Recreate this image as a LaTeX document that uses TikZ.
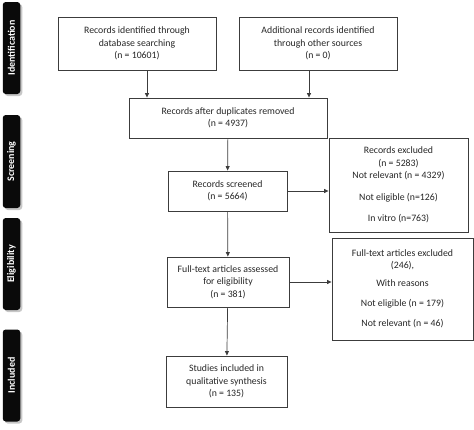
\documentclass[tikz,border=0pt]{standalone}
\usepackage{fontspec}
\setmainfont{Carlito}
\usepackage{tikz}
\usetikzlibrary{arrows.meta,positioning,calc,shadows}
\definecolor{boxline}{RGB}{60,60,60}
\definecolor{phasebg}{RGB}{10,10,10}

\begin{document}
\begin{tikzpicture}[
  x=1pt, y=-1pt,
  box/.style={rectangle, draw=boxline, line width=0.9pt, align=center,
              font=\fontsize{9.8}{12.5}\selectfont, text=black!85, inner sep=2pt},
  phase/.style={rectangle, rounded corners=3pt, fill=phasebg, rotate=90,
                minimum height=17.5pt, text=white, inner sep=0pt,
                font=\fontsize{10}{12}\selectfont\bfseries,
                drop shadow={shadow xshift=2pt, shadow yshift=-2pt, fill=black!22, opacity=1}},
  arr/.style={-{Triangle[length=4.5pt,width=4pt]}, line width=0.7pt, draw=boxline}
]
\useasboundingbox (0,0) rectangle (474,429);

%% ---- Phase labels (left) ----
\node[phase, minimum width=92pt] (ident) at (11.5,48) {Identification};
\node[phase, minimum width=93pt] (screen) at (11.5,161.5) {Screening};
\node[phase, minimum width=92pt] (elig) at (11.5,264) {Eligibility};
\node[phase, minimum width=92pt] (incl) at (11.5,375.5) {Included};

%% ---- Identification ----
\node[box, minimum width=158pt, minimum height=53pt] (dbrec) at (137,43.5)
  {Records identified through\\database searching\\(n = 10601)};
\node[box, minimum width=158pt, minimum height=53pt] (otherrec) at (318,43.5)
  {Additional records identified\\through other sources\\(n = 0)};

%% ---- Screening ----
\node[box, minimum width=198pt, minimum height=40pt] (dedup) at (228,118)
  {Records after duplicates removed\\(n = 4937)};
\node[box, minimum width=119pt, minimum height=40pt] (screened) at (227.5,191)
  {Records screened\\(n = 5664)};
\node[box, minimum width=139pt, minimum height=94pt] (recexcl) at (398.5,185)
  {Records excluded\\(n = 5283)\\Not relevant (n = 4329)\\[9pt]
   Not eligible (n=126)\\[8.5pt]In vitro (n=763)};

%% ---- Eligibility ----
\node[box, minimum width=122pt, minimum height=50pt] (fulltext) at (228,282)
  {Full-text articles assessed\\for eligibility\\(n = 381)};
\node[box, minimum width=141pt, minimum height=102pt] (ftexcl) at (402.5,289)
  {Full-text articles excluded\\(246),\\[5.5pt]With reasons\\[7.5pt]
   Not eligible (n = 179)\\[7.5pt]Not relevant (n = 46)};

%% ---- Included ----
\node[box, minimum width=121pt, minimum height=51pt] (studies) at (226.5,381.5)
  {Studies included in\\qualitative synthesis\\(n = 135)};

%% ---- Arrows ----
\draw[arr] ([xshift=10pt]dbrec.south) -- ([xshift=10pt]dbrec.south |- dedup.north);
\draw[arr] ([xshift=-9pt]otherrec.south) -- ([xshift=-9pt]otherrec.south |- dedup.north);
\draw[arr] (dedup)    -- (screened);
\draw[arr] (screened) -- (screened.east -| recexcl.west);
\draw[arr] (screened) -- (fulltext);
\draw[arr] (fulltext) -- (fulltext.east -| ftexcl.west);
\draw[arr] (fulltext) -- (studies);
\end{tikzpicture}
\end{document}
